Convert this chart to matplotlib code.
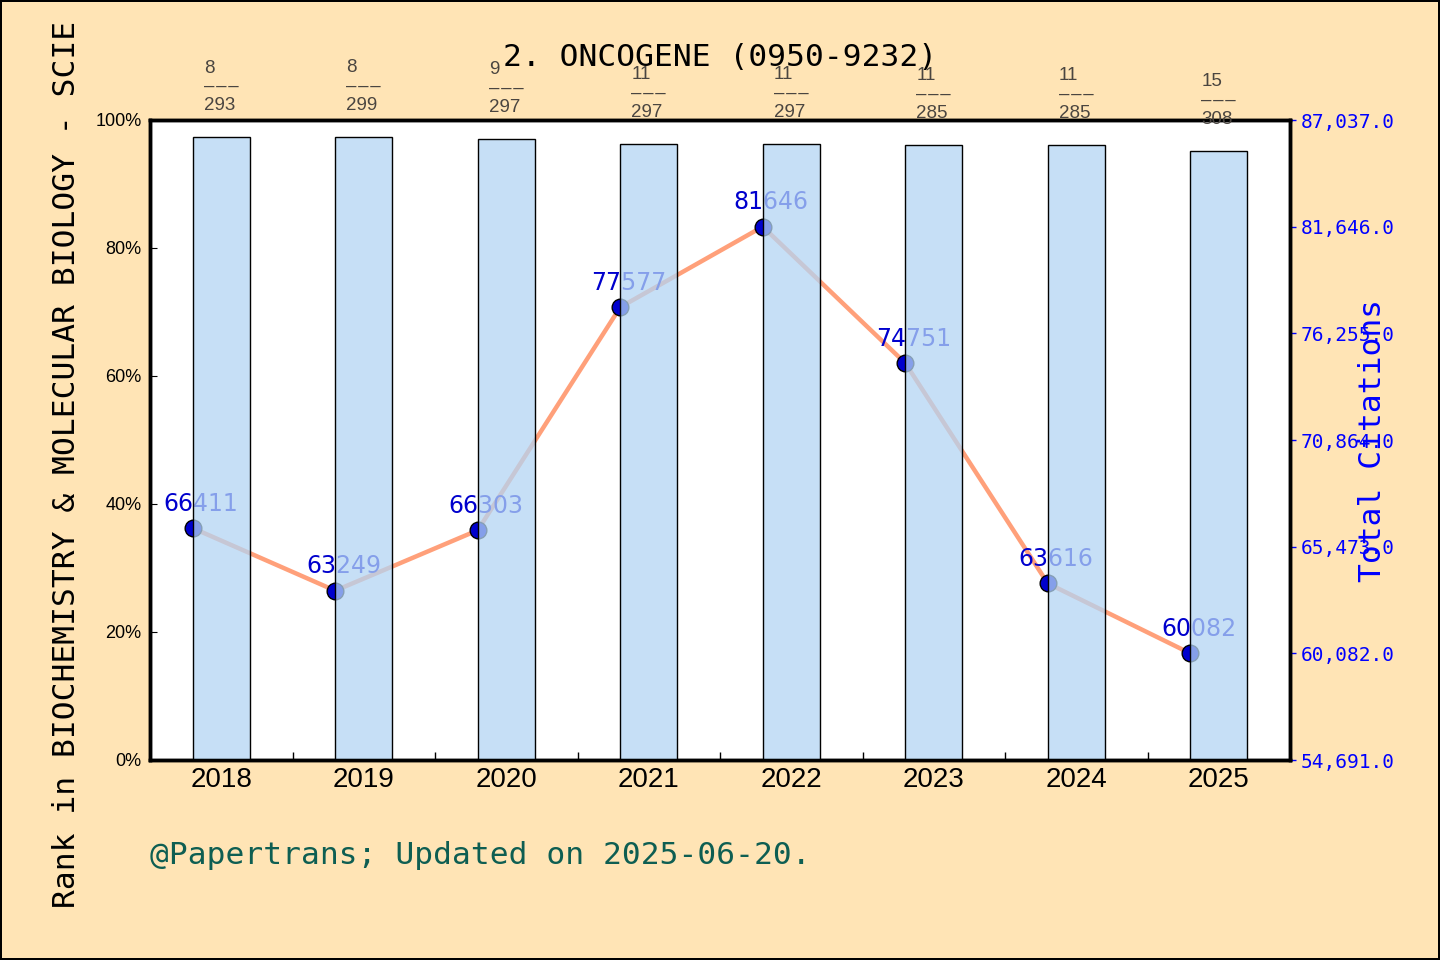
import numpy as np
import matplotlib
matplotlib.use("Agg")
import matplotlib.pyplot as plt
from matplotlib.ticker import FuncFormatter, FixedLocator

years = ['2018', '2019', '2020', '2021', '2022', '2023', '2024', '2025']
ranks = [8, 8, 9, 11, 11, 11, 11, 15]
totals = [293, 299, 297, 297, 297, 285, 285, 308]
citations = [66411, 63249, 66303, 77577, 81646, 74751, 63616, 60082]
cite_ticks = [54691, 60082, 65473, 70864, 76255, 81646, 87037]

mono = 'DejaVu Sans Mono'
bg = '#FFE4B5'

fig = plt.figure(figsize=(14.4, 9.6), dpi=100, facecolor=bg)
fig.patch.set_edgecolor('black')
fig.patch.set_linewidth(1.5)
ax1 = fig.add_axes([150/1440, 1-760/960, 1140/1440, 640/960])
ax2 = ax1.twinx()
ax1.set_zorder(ax2.get_zorder() + 1)
ax1.patch.set_visible(False)
ax2.patch.set_visible(True)
ax2.patch.set_facecolor('white')

x = np.arange(len(years))
pct = [1 - r / t for r, t in zip(ranks, totals)]

# line on the lower axes, partly covered by the bars
ax2.plot(x, citations, '-', color='#FFA07A', lw=3.2, zorder=2)
ax2.plot(x, citations, 'o', color='#0000CD', mec='black', mew=1, ms=12, zorder=3)
for xi, c in zip(x, citations):
    ax2.annotate(str(c), (xi, c), xytext=(6, 9), textcoords='offset points',
                 ha='center', va='bottom', color='#0000CD', fontsize=17,
                 family='DejaVu Sans')
ax2.set_ylim(cite_ticks[0], cite_ticks[-1])
ax2.yaxis.set_major_locator(FixedLocator(cite_ticks))
ax2.yaxis.set_major_formatter(FuncFormatter(lambda v, p: f'{v:,.1f}'))
ax2.tick_params(axis='y', colors='blue', labelsize=14, direction='out', length=4, width=1)
for lab in ax2.get_yticklabels():
    lab.set_family(mono)
ax2.set_ylabel('Total Citations', color='blue', fontsize=22.5, family=mono, labelpad=-26)

# bars
ax1.bar(x, pct, width=0.4, align='edge', facecolor=(0.70, 0.835, 0.955, 0.75),
        edgecolor='black', linewidth=1, zorder=2)
dash = '\u2013\u200a\u2013\u200a\u2013'
for xi, p, r, t in zip(x, pct, ranks, totals):
    ax1.text(xi + 0.2, p + 0.036, f'{r}\n{dash}\n{t}', ha='center', va='bottom', ma='left',
             fontsize=13.5, color='#4a4540', family=['Liberation Sans', 'DejaVu Sans'],
             linespacing=1.15, clip_on=False)

ax1.set_xlim(-0.3, 7.7)
ax1.set_ylim(0, 1)
ax1.set_xticks(x + 0.2)
ax1.set_xticklabels(years, fontsize=20, family='Liberation Sans')
ax1.set_xticks(x[:-1] + 0.7, minor=True)
ax1.tick_params(axis='x', which='major', length=0, pad=5)
ax1.tick_params(axis='x', which='minor', direction='in', length=6, width=1)
ax1.set_yticks(np.linspace(0, 1, 6))
ax1.yaxis.set_major_formatter(FuncFormatter(lambda v, p: f'{v*100:.0f}%'))
ax1.tick_params(axis='y', direction='in', length=5, labelsize=13, pad=6)
for lab in ax1.get_yticklabels():
    lab.set_family('Liberation Sans')
for ax in (ax1, ax2):
    for s in ax.spines.values():
        s.set_linewidth(2.5)

fig.text(67/1440, 1-464/960, 'Rank in BIOCHEMISTRY & MOLECULAR BIOLOGY - SCIE',
         rotation=90, ha='center', va='center', fontsize=22.5, family=mono)
fig.text(0.5, 1-57/960, '2. ONCOGENE (0950-9232)', ha='center', va='center',
         fontsize=22.5, family=mono)
fig.text(150/1440, 1-855/960, '@Papertrans; Updated on 2025-06-20.', ha='left',
         va='center', fontsize=22.5, family=mono, color='#0E5E52')

fig.savefig('out.png', dpi=100, facecolor=bg, edgecolor='black')
